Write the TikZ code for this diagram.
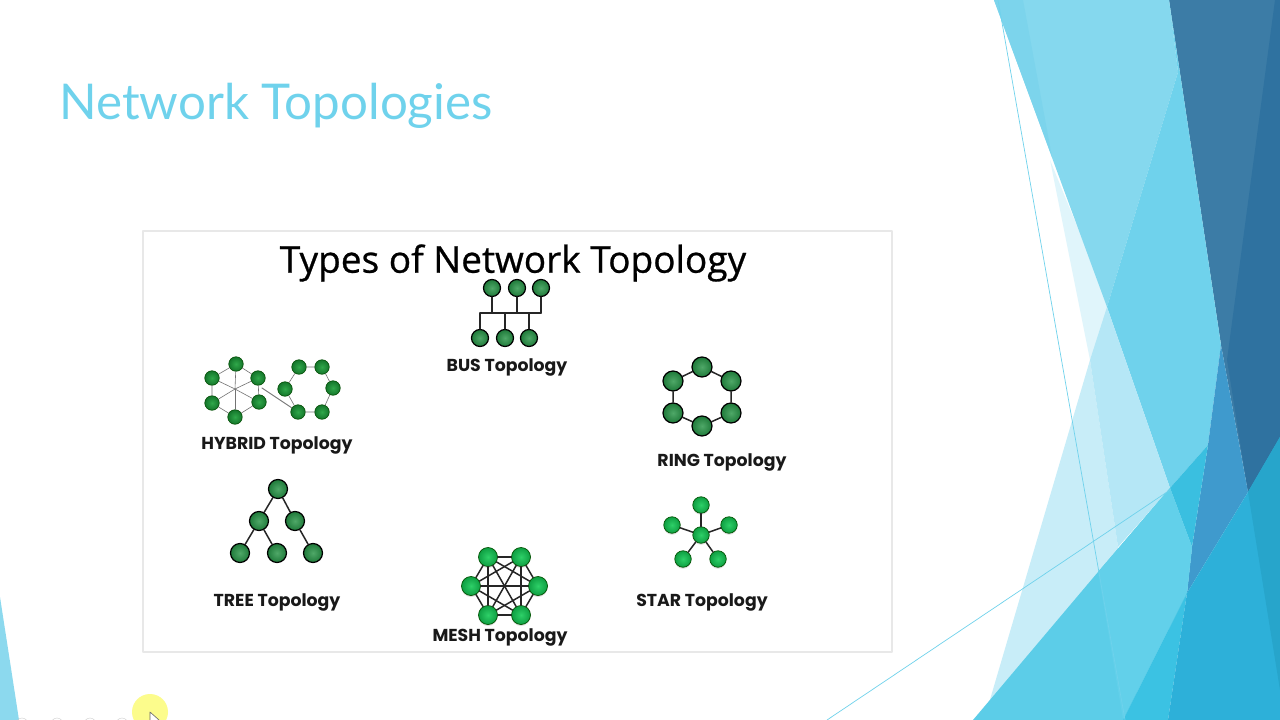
\documentclass[tikz,border=0pt]{standalone}
\usepackage{fontspec}
\setmainfont{Poppins}
\newfontfamily\titlefont{Lato}
\newfontfamily\panelfont[FakeBold=0.7]{Open Sans}
\usetikzlibrary{shadows}
\definecolor{titleblue}{HTML}{6FD2EC}
\definecolor{panelgray}{HTML}{E8E8E8}
\definecolor{dullgreen}{HTML}{1F7A3A}
\definecolor{dullrim}{HTML}{4FA868}
\definecolor{brightgreen}{HTML}{0E9E42}
\definecolor{brightrim}{HTML}{2ED068}
\definecolor{hybgreen}{HTML}{14752B}
\definecolor{hybrim}{HTML}{30A84A}
\tikzset{
  dull/.style={circle,draw=black,line width=1.2pt,inner sep=0pt,inner color=dullrim,outer color=dullgreen},
  bright/.style={circle,draw=black!60!green!80!black,line width=0.7pt,inner sep=0pt,inner color=brightrim,outer color=brightgreen,drop shadow={opacity=0.25,shadow xshift=0pt,shadow yshift=-1.5pt}},
  busnode/.style={dull,minimum size=17pt},
  hybnode/.style={circle,draw=black!70!green,line width=0.6pt,inner sep=0pt,inner color=hybrim,outer color=hybgreen,minimum size=14.5pt},
  ringnode/.style={dull,minimum size=20pt},
  treenode/.style={dull,minimum size=19pt},
  starnode/.style={bright,minimum size=16.5pt},
  meshnode/.style={bright,minimum size=19pt},
  toplabel/.style={font=\fontsize{17.3}{20}\selectfont\bfseries,text=black!90},
  link/.style={line width=1.5pt,color=black!85},
  thinlink/.style={line width=0.6pt,color=black!55},
  swoosh/.style={line width=0.7pt,color=titleblue}
}
\begin{document}
\begin{tikzpicture}[line cap=round,line join=round,x=1pt,y=-1pt]
\useasboundingbox (0,0) rectangle (1280,720);
\fill[white] (0,0) rectangle (1280,720);
\fill[color={rgb,255:red,140;green,217;blue,238}] (0,597) -- (19,720) -- (0,720) -- cycle;
\fill[color={rgb,255:red,60;green,124;blue,166}] (1169,0) -- (1280,0) -- (1280,440) -- (1248,492) -- (1221,345) -- cycle;
\fill[color={rgb,255:red,47;green,114;blue,160}] (1275,0) -- (1280,0) -- (1280,440) -- (1248,492) -- (1227,360) -- cycle;
\fill[color={rgb,255:red,224;green,245;blue,251}] (1050,160) -- (1110,307) -- (1090,360) -- cycle;
\fill[color={rgb,255:red,133;green,216;blue,238}] (994,0) -- (1169,0) -- (1178,72) -- (1107,307) -- cycle;
\fill[color={rgb,255:red,124;green,212;blue,236}] (994,0) -- (1023,0) -- (1052,157) -- cycle;
\fill[color={rgb,255:red,111;green,210;blue,236}] (1178,72) -- (1169,0) -- (1221,345) -- (1208,445) -- (1170,488) -- (1107,307) -- cycle;
\fill[color={rgb,255:red,63;green,154;blue,205}] (1221,345) -- (1248,492) -- (1187,593) -- (1192,547) -- (1208,445) -- cycle;
\fill[color={rgb,255:red,200;green,237;blue,248}] (1090,360) -- (984,720) -- (1130,600) -- (1118,547) -- cycle;
\fill[color={rgb,255:red,181;green,231;blue,246}] (1107,307) -- (1090,360) -- (1118,547) -- (1170,488) -- cycle;
\fill[color={rgb,255:red,58;green,191;blue,224}] (1208,445) -- (1170,488) -- (1192,547) -- cycle;
\fill[color={rgb,255:red,92;green,205;blue,232}] (1170,488) -- (1098,572) -- (973,720) -- (1123,720) -- (1187,593) -- (1192,547) -- cycle;
\fill[color={rgb,255:red,98;green,208;blue,234}] (1098,572) -- (1123,720) -- (1187,593) -- (1192,547) -- (1170,488) -- cycle;
\fill[color={rgb,255:red,59;green,194;blue,227}] (1187,593) -- (1123,720) -- (1168,720) -- cycle;
\fill[color={rgb,255:red,45;green,176;blue,217}] (1248,492) -- (1187,593) -- (1168,720) -- (1280,720) -- (1280,437) -- cycle;
\fill[color={rgb,255:red,39;green,165;blue,203}] (1248,492) -- (1280,437) -- (1280,690) -- cycle;
\draw[swoosh] (998,0) -- (1125,720);
\draw[swoosh] (827,720) -- (1170,490);
\foreach \x in {22,57,90,122}
\draw[color=black!20] (\x,724) circle (6);
\fill[color={rgb,255:red,252;green,252;blue,140}] (150,712) circle (18);
\filldraw[fill=white,draw=black!60,line width=0.6pt] (150,712) -- (150,725) -- (159,720) -- cycle;
\draw[panelgray,fill=white,line width=2pt] (143,231) rectangle (892,652);
\node[text=titleblue,font=\titlefont\fontsize{49.3}{58}\selectfont] (heading) at (276,106) {Network Topologies};
\node[font=\panelfont\fontsize{37}{44}\selectfont] (panelhead) at (513,263) {Types of Network Topology};
\foreach \n/\x in {1/492,2/517,3/541}
\node[busnode] (bt\n) at (\x,288) {};
\foreach \n/\x in {1/480,2/505,3/529}
\node[busnode] (bb\n) at (\x,338) {};
\coordinate (busleft) at (480,313);
\coordinate (busright) at (541,313);
\draw[link] (busleft) -- (busright);
\foreach \n in {1,2,3} {
\draw[link] (bt\n) -- (bt\n |- busleft);
\draw[link] (bb\n) -- (bb\n |- busleft);
}
\node[toplabel] (buslabel) at (507,367) {BUS Topology};
\foreach \n/\x/\y in {1/236/364,2/258/378,3/259/402,4/235/417,5/212/403,6/212/378}
\node[hybnode] (hs\n) at (\x,\y) {};
\coordinate (hubcentre) at (235,389);
\foreach \n in {1,...,6}
\draw[thinlink] (hubcentre) -- (hs\n);
\draw[thinlink] (hs1) -- (hs2) -- (hs3) -- (hs4) -- (hs5) -- (hs6) -- (hs1);
\foreach \n/\x/\y in {1/299/367,2/322/367,3/333/388,4/322/412,5/298/412,6/285/389}
\node[hybnode] (hr\n) at (\x,\y) {};
\draw[thinlink] (hr1) -- (hr2) -- (hr3) -- (hr4) -- (hr5) -- (hr6) -- (hr1);
\coordinate (hublink) at (262,388);
\draw[thinlink,line width=0.9pt] (hublink) -- (hr5);
\node[toplabel] (hybridlabel) at (277,445) {HYBRID Topology};
\foreach \n/\x/\y in {1/702/367,2/731/381,3/731/413,4/702/426,5/673/413,6/673/381}
\node[ringnode] (rg\n) at (\x,\y) {};
\draw[link] (rg1) -- (rg2) -- (rg3) -- (rg4) -- (rg5) -- (rg6) -- (rg1);
\node[toplabel] (ringlabel) at (722,462) {RING Topology};
\foreach \n/\x/\y in {1/278/489,2/259/521,3/295/521,4/240/553,5/277/553,6/313/553}
\node[treenode] (tr\n) at (\x,\y) {};
\draw[link] (tr1) -- (tr2);
\draw[link] (tr1) -- (tr3);
\draw[link] (tr2) -- (tr4);
\draw[link] (tr2) -- (tr5);
\draw[link] (tr3) -- (tr6);
\node[toplabel] (treelabel) at (277,602) {TREE Topology};
\foreach \n/\x/\y in {1/701/505,2/729/525,3/718/559,4/683/559,5/672/525,6/701/535}
\node[starnode] (st\n) at (\x,\y) {};
\foreach \n in {1,...,5}
\draw[link] (st6) -- (st\n);
\node[toplabel] (starlabel) at (702,602) {STAR Topology};
\foreach \n/\x/\y in {1/488/557,2/521/557,3/538/586,4/521/615,5/488/615,6/471/586}
\node[meshnode] (ms\n) at (\x,\y) {};
\foreach \a/\b in {1/2,1/3,1/4,1/5,1/6,2/3,2/4,2/5,2/6,3/4,3/5,3/6,4/5,4/6,5/6}
\draw[link] (ms\a) -- (ms\b);
\node[toplabel] (meshlabel) at (500,637) {MESH Topology};
\end{tikzpicture}
\end{document}
